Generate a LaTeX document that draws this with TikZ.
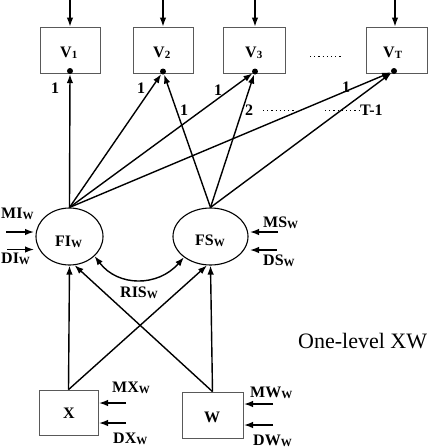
\documentclass[tikz,border=0pt]{standalone}
\usepackage{fontspec}
\setmainfont{Liberation Serif}
\usetikzlibrary{arrows.meta,shapes.geometric}
\newcommand\wsub[1]{\raisebox{-0.25ex}{\fontsize{11}{11}\selectfont #1}}
\begin{document}
\begin{tikzpicture}[
  lbl/.style={font=\bfseries\fontsize{16}{16}\selectfont, inner sep=0pt, anchor=base west},
  lblc/.style={font=\bfseries\fontsize{16}{16}\selectfont, inner sep=0pt, anchor=base},
  box/.style={draw=black!65, line width=0.8pt, rectangle, inner sep=0pt},
  ell/.style={draw, ellipse, line width=1.1pt, inner sep=0pt},
  conn/.style={line width=1.4pt, -{Latex[length=9pt,width=6.5pt]}},
  dots/.style={line width=0.9pt, dash pattern=on 1.2pt off 3pt},
  vdot/.style={circle, fill=black, inner sep=0pt, minimum size=6pt}
]
\useasboundingbox (0pt,0pt) rectangle (432pt,-448pt);
% top boxes
\node[box, minimum width=60pt, minimum height=46pt] (V1) at (70pt,-50pt) {};
\node[box, minimum width=60pt, minimum height=46pt] (V2) at (163pt,-50pt) {};
\node[box, minimum width=62pt, minimum height=46pt] (V3) at (254pt,-50pt) {};
\node[box, minimum width=61pt, minimum height=46pt] (VT) at (396.5pt,-50pt) {};
\node[lbl] (tV1) at (60pt,-57pt) {V\wsub{1}};
\node[lbl] (tV2) at (153pt,-57pt) {V\wsub{2}};
\node[lbl] (tV3) at (245pt,-57pt) {V\wsub{3}};
\node[lbl] (tVT) at (383pt,-57pt) {V\wsub{T}};
\coordinate (dA) at (310pt,-56pt); \coordinate (dB) at (342pt,-56pt);
\draw[dots] (dA) -- (dB);
% top inputs
\coordinate (t1) at (70pt,0pt); \coordinate (t2) at (163pt,0pt);
\coordinate (t3) at (255pt,0pt); \coordinate (t4) at (395pt,0pt);
\draw[conn] (t1) -- (t1 |- V1.north);
\draw[conn] (t2) -- (t2 |- V2.north);
\draw[conn] (t3) -- (t3 |- V3.north);
\draw[conn] (t4) -- (t4 |- VT.north);
% ellipses
\node[ell, minimum width=67pt, minimum height=57pt] (FI) at (69.5pt,-236.5pt) {};
\node[ell, minimum width=75pt, minimum height=57pt] (FS) at (210.5pt,-236.5pt) {};
\node[lbl] (tFI) at (55pt,-246pt) {FI\wsub{W}};
\node[lbl] (tFS) at (195pt,-245pt) {FS\wsub{W}};
% dots
\node[vdot] (d1) at (70pt,-71pt) {};
\node[vdot] (d2) at (163pt,-71.5pt) {};
\node[vdot] (d3) at (255pt,-71.5pt) {};
\node[vdot] (dT) at (394pt,-71pt) {};
% connections up
\draw[conn] (FI.north) -- (d1);
\draw[conn] (FI.north) -- (d2);
\draw[conn] (FI.north) -- (d3);
\draw[conn] (FI.north) -- (dT);
\draw[conn] (FS.north) -- (d2);
\draw[conn] (FS.north) -- (d3);
\draw[conn] (FS.north) -- (dT);
% line labels
\node[lblc] (l1) at (55pt,-93pt) {1};
\node[lblc] (l2) at (141pt,-93pt) {1};
\node[lblc] (l3) at (218pt,-95pt) {1};
\node[lblc] (l4) at (346pt,-92pt) {1};
\node[lblc] (l5) at (184pt,-115pt) {1};
\node[lblc] (l6) at (249pt,-115pt) {2};
\node[lbl] (l7) at (360pt,-115pt) {T-1};
\coordinate (e1) at (263pt,-110pt); \coordinate (e2) at (295pt,-110pt);
\coordinate (e3) at (325pt,-110pt); \coordinate (e4) at (359pt,-110pt);
\draw[dots] (e1) -- (e2);
\draw[dots] (e3) -- (e4);
% side inputs FI
\node[lbl] (mi) at (1pt,-218pt) {MI\wsub{W}};
\node[lbl] (di) at (1pt,-263pt) {DI\wsub{W}};
\coordinate (miA) at (6pt,-232pt); \coordinate (miB) at (34pt,-232pt);
\coordinate (diA) at (7pt,-249.5pt); \coordinate (diB) at (34pt,-249.5pt);
\draw[conn] (miA) -- (miB);
\draw[conn] (diA) -- (diB);
% side inputs FS
\node[lbl] (ms) at (263pt,-227pt) {MS\wsub{W}};
\node[lbl] (ds) at (263pt,-265pt) {DS\wsub{W}};
\coordinate (msA) at (278pt,-232pt); \coordinate (msB) at (250pt,-232pt);
\coordinate (dsA) at (277pt,-250pt); \coordinate (dsB) at (250pt,-250pt);
\draw[conn] (msA) -- (msB);
\draw[conn] (dsA) -- (dsB);
% RIS curve
\draw[line width=1.4pt, {Latex[length=9pt,width=6.5pt]}-{Latex[length=9pt,width=6.5pt]}]
  (FI.-38) .. controls (118pt,-287pt) and (158pt,-287pt) .. (FS.-142);
\node[lbl] (ris) at (120pt,-297pt) {RIS\wsub{W}};
% bottom boxes
\node[box, minimum width=59pt, minimum height=45pt] (X) at (68.5pt,-412.5pt) {};
\node[box, minimum width=61pt, minimum height=46pt] (W) at (212.5pt,-415pt) {};
\node[lblc] (tX) at (69pt,-418pt) {X};
\node[lblc] (tW) at (212pt,-422pt) {W};
\draw[conn] (X.north) -- (FI.south);
\draw[conn] (X.north) -- (FS.-97);
\draw[conn] (W.north) -- (FS.south);
\draw[conn] (W.north) -- (FI.-80);
% bottom inputs
\node[lbl] (mx) at (112pt,-392pt) {MX\wsub{W}};
\node[lbl] (dx) at (113pt,-443pt) {DX\wsub{W}};
\coordinate (mxA) at (126pt,-403pt); \coordinate (mxB) at (99pt,-403pt);
\coordinate (dxA) at (126pt,-423pt); \coordinate (dxB) at (99pt,-423pt);
\draw[conn] (mxA) -- (mxB);
\draw[conn] (dxA) -- (dxB);
\node[lbl] (mw) at (250pt,-397pt) {MW\wsub{W}};
\node[lbl] (dw) at (253pt,-445pt) {DW\wsub{W}};
\coordinate (mwA) at (273pt,-404pt); \coordinate (mwB) at (244pt,-404pt);
\coordinate (dwA) at (273pt,-425pt); \coordinate (dwB) at (244pt,-425pt);
\draw[conn] (mwA) -- (mwB);
\draw[conn] (dwA) -- (dwB);
% title
\node[font=\fontsize{22}{22}\selectfont, inner sep=0pt, anchor=base west] (title) at (298pt,-348pt) {One-level XW};
\end{tikzpicture}
\end{document}
